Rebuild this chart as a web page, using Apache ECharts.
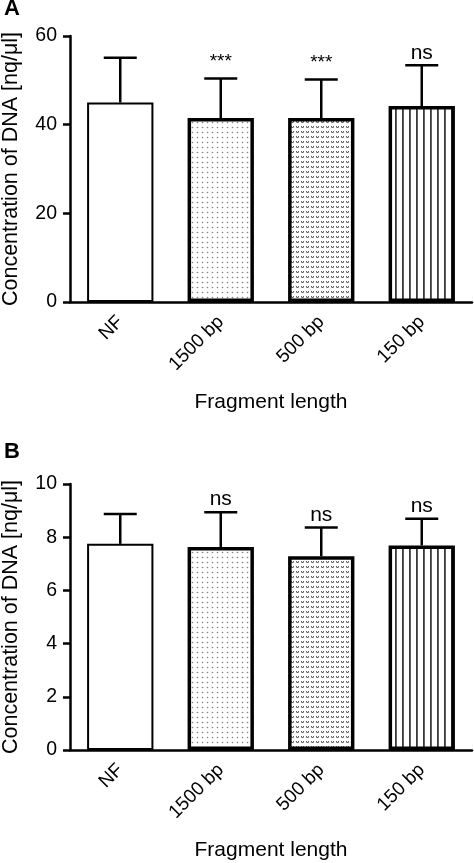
<!DOCTYPE html>
<html>
<head>
<meta charset="utf-8">
<script src="https://cdn.jsdelivr.net/npm/echarts@6/dist/echarts.min.js"></script>
<style>
html,body{margin:0;padding:0;background:#fff;}
#chart{width:474px;height:863px;}
</style>
</head>
<body>
<div id="chart"></div>
<script>
// ---- data ----
var categories = ['NF', '1500 bp', '500 bp', '150 bp'];
var meansA = [45.0, 41.5, 41.5, 44.2];
var errTopA = [55.1, 50.4, 50.2, 53.4];
var annotA = ['', '***', '***', 'ns'];
var meansB = [7.75, 7.63, 7.28, 7.69];
var errTopB = [8.87, 8.94, 8.36, 8.69];
var annotB = ['', 'ns', 'ns', 'ns'];
var yTicksA = {min: 0, max: 60, interval: 20};
var yTicksB = {min: 0, max: 10, interval: 2};

// ---- patterns ----
function makeCanvas(w, h, draw) {
  var c = document.createElement('canvas');
  c.width = w; c.height = h;
  var ctx = c.getContext('2d');
  ctx.fillStyle = '#fff';
  ctx.fillRect(0, 0, w, h);
  draw(ctx);
  return c;
}
var dotCanvas = makeCanvas(5, 5, function (ctx) {
  ctx.fillStyle = '#808080';
  ctx.beginPath(); ctx.arc(2.5, 2.5, 0.8, 0, Math.PI * 2); ctx.fill();
});
var heartCanvas = makeCanvas(5, 5, function (ctx) {
  ctx.fillStyle = '#606060';
  ctx.fillRect(1, 1, 1, 1);
  ctx.fillRect(3, 1, 1, 1);
  ctx.fillRect(2, 2, 1, 1);
  ctx.fillStyle = '#a0a0a0';
  ctx.fillRect(1, 2, 1, 1);
  ctx.fillRect(3, 2, 1, 1);
});
var stripeCanvas = makeCanvas(7, 4, function (ctx) {
  ctx.fillStyle = '#3a3a3a';
  ctx.fillRect(3, 0, 1.8, 4);
});
var fills = [
  '#ffffff',
  {image: dotCanvas, repeat: 'repeat'},
  {image: heartCanvas, repeat: 'repeat'},
  {image: stripeCanvas, repeat: 'repeat'}
];
var borders = [2, 3.5, 3.5, 3.5];

function barData(vals) {
  return vals.map(function (v, i) {
    return {value: v, itemStyle: {color: fills[i], borderColor: '#000', borderWidth: borders[i]}};
  });
}
function errData(means, tops) {
  return means.map(function (m, i) { return [i, m, tops[i]]; });
}
var font = '"Liberation Sans", Arial, sans-serif';
function errRender(annot) {
  return function (params, api) {
    var i = api.value(0);
    var p0 = api.coord([i, api.value(1)]);
    var p1 = api.coord([i, api.value(2)]);
    var half = 16.5;
    var children = [
      {type: 'line', shape: {x1: p0[0], y1: p0[1], x2: p1[0], y2: p1[1]}, style: {stroke: '#000', lineWidth: 2.5}},
      {type: 'line', shape: {x1: p1[0] - half, y1: p1[1], x2: p1[0] + half, y2: p1[1]}, style: {stroke: '#000', lineWidth: 2.5}}
    ];
    var t = annot[params.dataIndex];
    if (t) {
      var isStar = t.indexOf('*') >= 0;
      children.push({type: 'text', x: p1[0], y: p1[1] - (isStar ? 7 : 2),
        style: {text: t, fill: '#000', font: (isStar ? '19px ' : '21px ') + font, align: 'center', verticalAlign: 'bottom'}});
    }
    return {type: 'group', children: children};
  };
}

function xAxisCfg(gi) {
  return {
    type: 'category', gridIndex: gi, data: categories,
    name: 'Fragment length', nameLocation: 'middle', nameGap: 90,
    nameTextStyle: {fontSize: 21, color: '#000', fontFamily: font},
    axisLine: {lineStyle: {color: '#000', width: 2.5}},
    axisTick: {alignWithLabel: true, length: 8, lineStyle: {color: '#000', width: 2.5}},
    axisLabel: {rotate: 45, fontSize: 19, color: '#000', fontFamily: font, margin: 17},
    splitLine: {show: false}
  };
}
function yAxisCfg(gi, t) {
  return {
    type: 'value', gridIndex: gi, min: t.min, max: t.max, interval: t.interval,
    name: 'Concentration of DNA [nq/\u03bcl]', nameLocation: 'middle', nameGap: 48,
    nameTextStyle: {fontSize: 21.5, color: '#000', fontFamily: font},
    axisLine: {show: true, lineStyle: {color: '#000', width: 2.5}},
    axisTick: {show: true, length: 7, lineStyle: {color: '#000', width: 2.5}},
    axisLabel: {fontSize: 19.5, color: '#000', fontFamily: font, margin: 13},
    splitLine: {show: false}
  };
}

var chart = echarts.init(document.getElementById('chart'), null, {renderer: 'canvas'});
chart.setOption({
  animation: false,
  backgroundColor: '#fff',
  title: [
    {text: 'A', left: -1, top: -7, textStyle: {fontSize: 22, fontWeight: 'bold', color: '#000', fontFamily: font}},
    {text: 'B', left: -1, top: 436, textStyle: {fontSize: 22, fontWeight: 'bold', color: '#000', fontFamily: font}}
  ],
  grid: [
    {left: 70, right: 2, top: 36, height: 266, containLabel: false, outerBoundsMode: 'none'},
    {left: 70, right: 2, top: 484, height: 266, containLabel: false, outerBoundsMode: 'none'}
  ],
  xAxis: [xAxisCfg(0), xAxisCfg(1)],
  yAxis: [yAxisCfg(0, yTicksA), yAxisCfg(1, yTicksB)],
  series: [
    {type: 'bar', xAxisIndex: 0, yAxisIndex: 0, barWidth: '66%', data: barData(meansA), z: 2},
    {type: 'custom', xAxisIndex: 0, yAxisIndex: 0, data: errData(meansA, errTopA), renderItem: errRender(annotA), z: 3},
    {type: 'bar', xAxisIndex: 1, yAxisIndex: 1, barWidth: '66%', data: barData(meansB), z: 2},
    {type: 'custom', xAxisIndex: 1, yAxisIndex: 1, data: errData(meansB, errTopB), renderItem: errRender(annotB), z: 3}
  ]
});
</script>
</body>
</html>
